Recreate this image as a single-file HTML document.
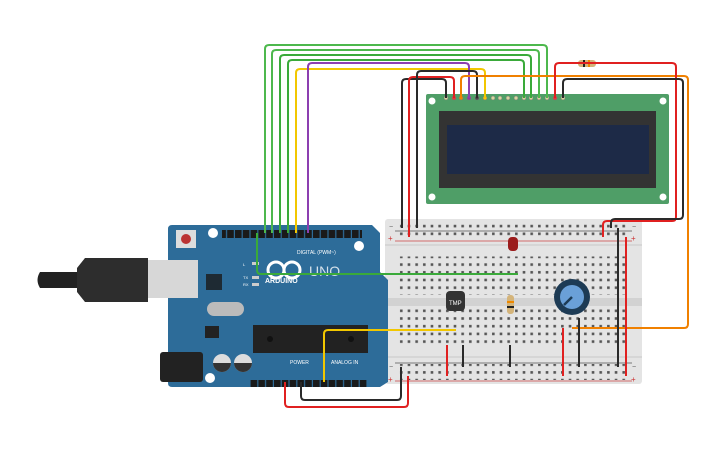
<!DOCTYPE html>
<html><head><meta charset="utf-8"><style>html,body{margin:0;padding:0;background:#fff;width:725px;height:453px;overflow:hidden}svg{display:block}</style></head>
<body>
<svg width="725" height="453" viewBox="0 0 725 453" xmlns="http://www.w3.org/2000/svg" font-family="Liberation Sans, sans-serif">
<defs>
<pattern id="h" x="398.5" y="0" width="7.67" height="7.7" patternUnits="userSpaceOnUse"><rect x="1.5" y="1.5" width="2.6" height="2.6" fill="#555"/></pattern>
<pattern id="hh" x="234.5" y="0" width="7.8" height="10" patternUnits="userSpaceOnUse"><rect x="0.5" y="0" width="6.6" height="8" fill="#1a1a1a"/></pattern>
</defs>

<!-- breadboard -->
<rect x="385" y="219" width="257" height="165" rx="3" fill="#e4e4e4"/>
<rect x="385" y="244" width="257" height="2" fill="#d6d6d6"/>
<rect x="385" y="298" width="257" height="8" fill="#d2d2d2"/>
<rect x="385" y="356" width="257" height="2" fill="#d6d6d6"/>
<line x1="395" y1="231" x2="632" y2="231" stroke="#555" stroke-width="0.8"/>
<line x1="395" y1="241" x2="632" y2="241" stroke="#c44" stroke-width="0.8"/>
<line x1="395" y1="363" x2="632" y2="363" stroke="#555" stroke-width="0.8"/>
<line x1="395" y1="381" x2="632" y2="381" stroke="#c44" stroke-width="0.8"/>
<rect x="398" y="224" width="230" height="16" fill="url(#h)"/>
<rect x="398" y="256.5" width="230" height="38" fill="url(#h)"/>
<rect x="398" y="309" width="230" height="38" fill="url(#h)"/>
<rect x="398" y="364" width="230" height="16" fill="url(#h)"/>
<text x="389" y="229" font-size="7" fill="#555">−</text><text x="388" y="241" font-size="8" fill="#c33">+</text>
<text x="632" y="229" font-size="7" fill="#555">−</text><text x="631" y="241" font-size="8" fill="#c33">+</text>
<text x="389" y="369" font-size="7" fill="#555">−</text><text x="388" y="382" font-size="8" fill="#c33">+</text>
<text x="632" y="369" font-size="7" fill="#555">−</text><text x="631" y="382" font-size="8" fill="#c33">+</text>

<!-- LCD -->
<rect x="426" y="94" width="243" height="110" rx="2" fill="#4f9e67"/>
<circle cx="432" cy="101" r="3.5" fill="#fff"/><circle cx="663" cy="101" r="3.5" fill="#fff"/>
<circle cx="432" cy="197" r="3.5" fill="#fff"/><circle cx="663" cy="197" r="3.5" fill="#fff"/>
<rect x="439" y="111" width="217" height="77" fill="#333"/>
<rect x="447" y="125" width="202" height="49" fill="#1d2a47"/>
<g fill="#d8d8a0" stroke="#777" stroke-width="0.5">
<circle cx="446" cy="98" r="2"/><circle cx="454" cy="98" r="2" fill="#e33"/><circle cx="461" cy="98" r="2" fill="#e80"/><circle cx="469" cy="98" r="2" fill="#939"/><circle cx="477" cy="98" r="2" fill="#444"/><circle cx="485" cy="98" r="2" fill="#fc0"/><circle cx="493" cy="98" r="2"/><circle cx="500" cy="98" r="2"/><circle cx="508" cy="98" r="2"/><circle cx="516" cy="98" r="2"/><circle cx="524" cy="98" r="2"/><circle cx="531" cy="98" r="2"/><circle cx="539" cy="98" r="2"/><circle cx="547" cy="98" r="2"/><circle cx="555" cy="98" r="2" fill="#e33"/><circle cx="563" cy="98" r="2"/>
</g>

<!-- Arduino -->
<path d="M172 225 H372 L380 233 V272 L388 280 V382 L380 387 H172 Q168 387 168 383 V229 Q168 225 172 225Z" fill="#2d6c99"/>
<rect x="222" y="230" width="140" height="9" fill="url(#hh)"/>
<rect x="250" y="378" width="117" height="9" fill="url(#hh)"/>
<rect x="176" y="230" width="20" height="18" fill="#ddd"/><circle cx="186" cy="239" r="5" fill="#b33"/>
<circle cx="213" cy="233" r="5" fill="#fff"/><circle cx="359" cy="246" r="5" fill="#fff"/><circle cx="210" cy="378" r="5" fill="#fff"/>
<rect x="206" y="274" width="16" height="16" fill="#1e2a33"/>
<rect x="207" y="302" width="37" height="14" rx="7" fill="#bbb"/>
<rect x="253" y="325" width="115" height="28" fill="#222"/>
<circle cx="270" cy="339" r="3" fill="#111"/><circle cx="351" cy="339" r="3" fill="#111"/>
<rect x="205" y="326" width="14" height="12" fill="#222"/>
<circle cx="222" cy="363" r="9" fill="#ddd"/><path d="M213 363 A9 9 0 0 0 231 363Z" fill="#333"/>
<circle cx="243" cy="363" r="9" fill="#ddd"/><path d="M234 363 A9 9 0 0 0 252 363Z" fill="#333"/>
<rect x="160" y="352" width="43" height="30" rx="3" fill="#222"/>
<text x="265" y="283" font-size="7" font-weight="bold" fill="#fff">ARDUINO</text>
<text x="309" y="276" font-size="14" fill="#fff" fill-opacity="0.8">UNO</text>
<circle cx="276" cy="270" r="8" fill="none" stroke="#fff" stroke-width="3"/><circle cx="292" cy="270" r="8" fill="none" stroke="#fff" stroke-width="3"/>
<text x="297" y="254" font-size="5" fill="#fff">DIGITAL (PWM~)</text>
<text x="290" y="364" font-size="5" fill="#fff">POWER</text>
<text x="331" y="364" font-size="5" fill="#fff">ANALOG IN</text>
<text x="243" y="266" font-size="4" fill="#fff">L</text><text x="243" y="279" font-size="4" fill="#fff">TX</text><text x="243" y="286" font-size="4" fill="#fff">RX</text>
<rect x="252" y="262" width="7" height="3" fill="#ccc"/><rect x="252" y="276" width="7" height="3" fill="#ccc"/><rect x="252" y="283" width="7" height="3" fill="#ccc"/>
<!-- USB -->
<rect x="148" y="260" width="50" height="38" fill="#d7d7d7"/>
<path d="M77 268 L85 258 H148 V302 H85 L77 292Z" fill="#2d2d2d"/>
<path d="M40 272 H77 V288 H40 Q35 280 40 272Z" fill="#222"/>

<!-- components -->
<rect x="508" y="237" width="10" height="14" rx="4" fill="#9b1c1c"/>
<rect x="446" y="291" width="19" height="20" rx="4" fill="#333"/><text x="449" y="305" font-size="6" fill="#fff">TMP</text>
<rect x="507" y="295" width="7" height="19" rx="3" fill="#d4b47a"/><rect x="507" y="301" width="7" height="2" fill="#e80"/><rect x="507" y="306" width="7" height="2" fill="#222"/>
<circle cx="572" cy="297" r="18" fill="#1d3b55"/><circle cx="572" cy="297" r="12" fill="#6aa0d8"/><line x1="572" y1="297" x2="564" y2="305" stroke="#1d3b55" stroke-width="2.5"/>
<rect x="578" y="60" width="18" height="7" rx="3" fill="#d4b47a"/><rect x="583" y="60" width="2" height="7" fill="#222"/><rect x="588" y="60" width="2" height="7" fill="#e80"/>

<!-- wires -->
<g fill="none" stroke-width="2" stroke-linejoin="round">
<path d="M265 233 V49 Q265 45 269 45 H543 Q547 45 547 49 V98" stroke="#4db84d"/>
<path d="M272 233 V54 Q272 50 276 50 H535 Q539 50 539 54 V98" stroke="#4db84d"/>
<path d="M280 233 V59 Q280 55 284 55 H527 Q531 55 531 59 V98" stroke="#3aaa3a"/>
<path d="M288 233 V64 Q288 60 292 60 H520 Q524 60 524 64 V98" stroke="#3aaa3a"/>
<path d="M296 233 V73 Q296 69 300 69 H481 Q485 69 485 73 V98" stroke="#f2c700"/>
<path d="M308 233 V67 Q308 63 312 63 H465 Q469 63 469 67 V98" stroke="#8c3fb0"/>
<path d="M257 233 V270 Q257 274 261 274 H518" stroke="#3aaa3a"/>
<path d="M446 98 V83 Q446 79 442 79 H406 Q402 79 402 83 V228" stroke="#2a2a2a"/>
<path d="M454 98 V81 Q454 77 450 77 H413 Q409 77 409 81 V237" stroke="#e02020"/>
<path d="M477 98 V75 Q477 71 473 71 H421 Q417 71 417 75 V228" stroke="#2a2a2a"/>
<path d="M461 98 V80 Q461 76 465 76 H684 Q688 76 688 80 V324 Q688 328 684 328 H572" stroke="#f08000"/>
<path d="M555 98 V67 Q555 63 559 63 H672 Q676 63 676 67 V217 Q676 221 672 221 H607 Q603 221 603 225 V237" stroke="#e02020"/>
<path d="M563 98 V83 Q563 79 567 79 H679 Q683 79 683 83 V215 Q683 219 679 219 H615 Q611 219 611 223 V228" stroke="#2a2a2a"/>
<path d="M324 382 V334 Q324 330 328 330 H456" stroke="#f2c700"/>
<path d="M285 382 V403 Q285 407 289 407 H404 Q408 407 408 403 V376" stroke="#e02020"/>
<path d="M301 382 V396 Q301 400 305 400 H397 Q401 400 401 396 V367" stroke="#2a2a2a"/>
<path d="M447 345 V376" stroke="#e02020"/>
<path d="M463 345 V367" stroke="#2a2a2a"/>
<path d="M510 345 V367" stroke="#2a2a2a"/>
<path d="M563 328 V376" stroke="#e02020"/>
<path d="M579 318 V367" stroke="#2a2a2a"/>
<path d="M618 228 V367" stroke="#2a2a2a"/>
<path d="M626 237 V376" stroke="#e02020"/>
</g>
</svg>
</body></html>
